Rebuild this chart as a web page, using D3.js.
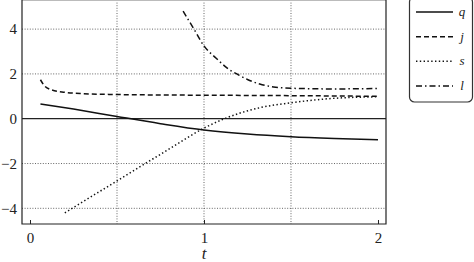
<!DOCTYPE html>
<html>
<head>
  <meta charset="utf-8">
  <title>D3</title>
  <script src="https://d3js.org/d3.v7.min.js"></script>
  <style>
    body { margin: 0; background: #fff; }
    svg text { font-family: "Liberation Serif", "DejaVu Serif", serif !important; fill: #222; }
  </style>
</head>
<body>
<script>
// data
var qT = [0.06, 0.25, 0.5, 0.75, 1, 1.25, 1.5, 1.75, 2];
var qV = [0.66, 0.43, 0.1, -0.22, -0.5, -0.68, -0.8, -0.88, -0.94];

var jT = [0.06, 0.08, 0.12, 0.2, 0.3, 0.5, 0.75, 1, 1.5, 2];
var jV = [1.74, 1.5, 1.3, 1.18, 1.12, 1.08, 1.06, 1.05, 1.03, 1.0];

var sT = [0.2, 0.4, 0.6, 0.8, 1, 1.13, 1.32, 1.5, 1.71, 2];
var sV = [-4.2, -3.25, -2.3, -1.35, -0.42, 0.04, 0.49, 0.71, 0.89, 0.98];

var lT = [0.88, 0.95, 1, 1.07, 1.13, 1.2, 1.25, 1.32, 1.4, 1.5, 1.75, 2];
var lV = [4.8, 3.9, 3.25, 2.7, 2.28, 1.95, 1.75, 1.55, 1.42, 1.36, 1.33, 1.35];

var seriesNames = ["q", "j", "s", "l"];
var xTicks = [0, 1, 2];
var xGrid = [0.5, 1, 1.5];
var yTicks = [-4, -2, 0, 2, 4];

var w = 474, h = 262;
var svg = d3.select("body").append("svg").attr("width", w).attr("height", h);

var x = d3.scaleLinear().domain([-0.046, 2.046]).range([22, 386]);
var y = d3.scaleLinear().domain([-4.7, 5.3]).range([224, 0]);

// grid
svg.append("g").selectAll("line").data(xGrid).enter().append("line")
  .attr("x1", d => x(d)).attr("x2", d => x(d))
  .attr("y1", 0).attr("y2", 224)
  .attr("stroke", "#555").attr("stroke-width", 0.9).attr("stroke-dasharray", "1,1.6");

svg.append("g").selectAll("line").data(yTicks.filter(d => d !== 0)).enter().append("line")
  .attr("x1", 22).attr("x2", 386)
  .attr("y1", d => y(d)).attr("y2", d => y(d))
  .attr("stroke", "#555").attr("stroke-width", 0.9).attr("stroke-dasharray", "1,1.6");

// zero line
svg.append("line")
  .attr("x1", 22).attr("x2", 386).attr("y1", y(0)).attr("y2", y(0))
  .attr("stroke", "#222").attr("stroke-width", 1.2);

// axes
var xAxis = d3.axisBottom(x).tickValues(xTicks).tickSize(-4).tickPadding(8).tickFormat(d3.format("d"));
var gx = svg.append("g").attr("transform", "translate(0,224)").call(xAxis);
gx.select(".domain").remove();
gx.selectAll("line").attr("stroke", "#222");
gx.selectAll("text").style("font-size", "15px");

var yAxis = d3.axisLeft(y).tickValues(yTicks).tickSize(0).tickPadding(5)
  .tickFormat(d => d < 0 ? "\u2212" + Math.abs(d) : d);
var gy = svg.append("g").attr("transform", "translate(22,0)").call(yAxis);
gy.select(".domain").remove();
gy.selectAll("text").style("font-size", "15px");

// frame
svg.append("line").attr("x1", 22).attr("x2", 386).attr("y1", 0.5).attr("y2", 0.5)
  .attr("stroke", "#bbb").attr("stroke-width", 1.2);
svg.append("path").attr("d", "M22,0V224H386V0")
  .attr("fill", "none").attr("stroke", "#222").attr("stroke-width", 1.2);

// curves
var styles = ["none", "5,3", "1.4,2.4", "6,3,1.5,3"];
var series = [[qT, qV], [jT, jV], [sT, sV], [lT, lV]];
var line = d3.line().x(d => x(d[0])).y(d => y(d[1])).curve(d3.curveMonotoneX);

series.forEach(function (s, i) {
  var pts = s[0].map((t, k) => [t, s[1][k]]);
  svg.append("path").datum(pts)
    .attr("d", line)
    .attr("fill", "none")
    .attr("stroke", "#111")
    .attr("stroke-width", 1.5)
    .attr("stroke-dasharray", styles[i]);
});

// x label
svg.append("text").attr("x", x(1)).attr("y", 259).attr("text-anchor", "middle")
  .style("font-size", "17px").attr("font-style", "italic").text("t");

// legend
var lg = svg.append("g");
lg.append("rect").attr("x", 409.5).attr("y", -3).attr("width", 63).attr("height", 105)
  .attr("rx", 5).attr("fill", "#fff").attr("stroke", "#333").attr("stroke-width", 1.2);

var ly = d3.scalePoint().domain(seriesNames).range([12, 86]);
seriesNames.forEach(function (n, i) {
  lg.append("line").attr("x1", 416).attr("x2", 453)
    .attr("y1", ly(n)).attr("y2", ly(n))
    .attr("stroke", "#111").attr("stroke-width", 1.5)
    .attr("stroke-dasharray", styles[i]);
  lg.append("text").attr("x", 462).attr("y", ly(n) + 4)
    .attr("text-anchor", "middle").style("font-size", "13px").attr("font-style", "italic").text(n);
});
</script>
</body>
</html>
